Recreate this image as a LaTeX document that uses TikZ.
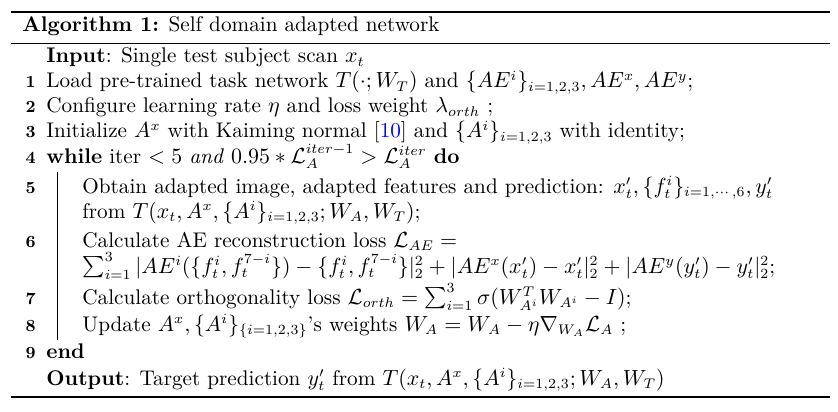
\documentclass[tikz,border=0pt]{standalone}
\usepackage{amsmath,amssymb}
\begin{document}
\begin{tikzpicture}[x=0.5pt,y=-0.5pt,
  txt/.style={anchor=base west,inner sep=0pt,font=\fontsize{10.6}{13}\selectfont},
  num/.style={anchor=base east,inner sep=0pt,font=\fontsize{8.5}{10}\selectfont\bfseries},
  rulethick/.style={line width=0.8pt},
  rulethin/.style={line width=0.4pt}]
\useasboundingbox (0,0) rectangle (838,411);
\draw[rulethick] (11,12) -- (830,12);
\draw[rulethin] (11,43) -- (830,43);
\draw[rulethick] (11,397) -- (830,397);
\node[txt] (h) at (22,32) {\textbf{Algorithm 1:} Self domain adapted network};
\node[txt] (in) at (46,63) {\textbf{Input}: Single test subject scan $x_t$};
\node[num] (n1) at (36,88) {1};
\node[txt] (l1) at (46,88) {Load pre-trained task network $T(\cdot;W_T)$ and $\{AE^i\}_{i=1,2,3}, AE^x, AE^y$;};
\node[num] (n2) at (36,113) {2};
\node[txt] (l2) at (46,113) {Configure learning rate $\eta$ and loss weight $\lambda_{orth}$ ;};
\node[num] (n3) at (36,138) {3};
\node[txt] (l3) at (46,138) {Initialize $A^x$ with Kaiming normal [\textcolor{blue}{10}] and $\{A^i\}_{i=1,2,3}$ with identity;};
\node[num] (n4) at (36,163) {4};
\node[txt] (l4) at (46,163) {\textbf{while} iter $<5$ \textit{and} $0.95*\mathcal{L}_A^{iter-1}>\mathcal{L}_A^{iter}$ \textbf{do}};
\node[num] (n5) at (36,193) {5};
\node[txt] (l5) at (82,193) {Obtain adapted image, adapted features and prediction: $x_t',\{f_t^i\}_{i=1,\cdots,6},y_t'$};
\node[txt] (l5b) at (82,218) {from $T(x_t,A^x,\{A^i\}_{i=1,2,3};W_A,W_T)$;};
\node[num] (n6) at (36,247) {6};
\node[txt] (l6) at (82,247) {Calculate AE reconstruction loss $\mathcal{L}_{AE}=$};
\node[txt] (l6b) at (82,273) {$\sum_{i=1}^3|AE^i(\{f_t^i,f_t^{7-i}\})-\{f_t^i,f_t^{7-i}\}|_2^2+|AE^x(x_t')-x_t'|_2^2+|AE^y(y_t')-y_t'|_2^2$;};
\node[num] (n7) at (36,304) {7};
\node[txt] (l7) at (82,304) {Calculate orthogonality loss $\mathcal{L}_{orth}=\sum_{i=1}^3\sigma(W_{A^i}^TW_{A^i}-I)$;};
\node[num] (n8) at (36,331) {8};
\node[txt] (l8) at (82,331) {Update $A^x,\{A^i\}_{\{i=1,2,3\}}$'s weights $W_A=W_A-\eta\nabla_{W_A}\mathcal{L}_A$ ;};
\node[num] (n9) at (36,358) {9};
\node[txt] (l9) at (46,358) {\textbf{end}};
\node[txt] (out) at (46,385) {\textbf{Output}: Target prediction $y_t'$ from $T(x_t,A^x,\{A^i\}_{i=1,2,3};W_A,W_T)$};
\coordinate (bt) at (57,172);
\coordinate (bb) at (57,340);
\draw[line width=0.4pt] (bt) -- (bb);
\end{tikzpicture}
\end{document}
